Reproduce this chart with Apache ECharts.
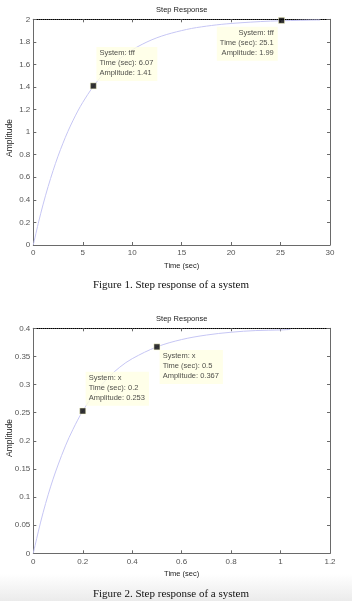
<!DOCTYPE html>
<html>
<head>
<meta charset="utf-8">
<script src="https://cdn.jsdelivr.net/npm/echarts@6/dist/echarts.min.js"></script>
<style>
html,body{margin:0;padding:0;}
body{width:352px;height:601px;background:linear-gradient(to bottom,#ffffff 0px,#ffffff 574px,#ebebeb 601px);}
#c{width:352px;height:601px;}
</style>
</head>
<body>
<div id="c"></div>
<script>
// Figure 1 step response (time, amplitude)
const time1 = [0,0.5,1,1.5,2,2.5,3,3.5,4,4.5,5,6,7,8,9,10,11,12,13,14,15,16,17,18,19,20,22,24,26,28,29];
const amp1  = [0,0.190,0.363,0.518,0.659,0.787,0.902,1.007,1.101,1.187,1.264,1.398,1.507,1.596,1.669,1.729,1.778,1.819,1.852,1.878,1.900,1.919,1.933,1.945,1.955,1.963,1.975,1.984,1.989,1.993,1.994];
// Figure 2 step response
const time2 = [0,0.02,0.04,0.06,0.08,0.1,0.13,0.16,0.2,0.25,0.3,0.35,0.4,0.5,0.6,0.7,0.8,0.9,1.0,1.04];
const amp2  = [0,0.038,0.073,0.104,0.132,0.157,0.191,0.220,0.253,0.285,0.311,0.331,0.346,0.367,0.380,0.388,0.393,0.396,0.397,0.398];
// data tips
const tipSys1 = ['tff','tff'];
const tipTime1 = [6.07,25.1];
const tipAmp1 = [1.41,1.99];
const tipSys2 = ['x','x'];
const tipTime2 = [0.2,0.5];
const tipAmp2 = [0.253,0.367];
// axis ranges / ticks
const xTicks1 = {min:0,max:30,interval:5};
const yTicks1 = {min:0,max:2,interval:0.2};
const xTicks2 = {min:0,max:1.2,interval:0.2};
const yTicks2 = {min:0,max:0.4,interval:0.05};
const titleText = 'Step Response';
const xName = 'Time (sec)';
const yName = 'Amplitude';
const captions = ['Figure 1. Step response of a system','Figure 2. Step response of a system'];

const SANS = 'Liberation Sans, Arial, Helvetica, sans-serif';
const axisGray = '#6a6a6a';

function bottomX(g, t){
  return {gridIndex:g,type:'value',min:t.min,max:t.max,interval:t.interval,position:'bottom',
    axisLine:{show:true,onZero:false,lineStyle:{color:axisGray,width:1}},
    axisTick:{show:true,inside:true,length:3,lineStyle:{color:axisGray}},
    axisLabel:{show:true,margin:4,fontSize:8,color:'#555',fontFamily:SANS},
    splitLine:{show:false},
    name:xName,nameLocation:'middle',nameGap:17,
    nameTextStyle:{fontSize:7.5,color:'#222',fontFamily:SANS}};
}
function topX(g, t){
  return {gridIndex:g,type:'value',min:t.min,max:t.max,interval:t.interval,position:'top',
    axisLine:{show:true,onZero:false,lineStyle:{color:'#000',width:1,type:[1,1]}},
    axisTick:{show:true,inside:true,length:3,lineStyle:{color:axisGray}},
    axisLabel:{show:false},splitLine:{show:false}};
}
function leftY(g, t){
  return {gridIndex:g,type:'value',min:t.min,max:t.max,interval:t.interval,position:'left',
    axisLine:{show:true,onZero:false,lineStyle:{color:axisGray,width:1}},
    axisTick:{show:true,inside:true,length:3,lineStyle:{color:axisGray}},
    axisLabel:{show:true,margin:3,fontSize:8,color:'#555',fontFamily:SANS},
    splitLine:{show:false}};
}
function rightY(g, t){
  return {gridIndex:g,type:'value',min:t.min,max:t.max,interval:t.interval,position:'right',
    axisLine:{show:true,onZero:false,lineStyle:{color:axisGray,width:1}},
    axisTick:{show:true,inside:true,length:3,lineStyle:{color:axisGray}},
    axisLabel:{show:false},splitLine:{show:false}};
}
function zip(a,b){return a.map((v,i)=>[v,b[i]]);}
function tipItems(sys,tm,amp,positions,aligns){
  return tm.map((t,i)=>({
    value:[t,amp[i]],
    label:{show:true,position:positions[i],align:aligns[i],verticalAlign:'top',
      formatter:'System: '+sys[i]+'\nTime (sec): '+t+'\nAmplitude: '+amp[i],
      backgroundColor:'#ffffe3',padding:[1,4,3,3],lineHeight:10,
      fontSize:7.5,color:'#222',fontFamily:SANS}
  }));
}
const lineColor = '#c6c6f4';

const chart = echarts.init(document.getElementById('c'),null,{renderer:'canvas'});
chart.setOption({
  animation:false,
  backgroundColor:'transparent',
  grid:[
    {left:33.3,top:19.3,width:296.7,height:225.7,containLabel:false,outerBoundsMode:'none'},
    {left:33.3,top:328.3,width:296.7,height:225,containLabel:false,outerBoundsMode:'none'}
  ],
  xAxis:[bottomX(0,xTicks1),topX(0,xTicks1),bottomX(1,xTicks2),topX(1,xTicks2)],
  yAxis:[leftY(0,yTicks1),rightY(0,yTicks1),leftY(1,yTicks2),rightY(1,yTicks2)],
  series:[
    {type:'line',xAxisIndex:0,yAxisIndex:0,data:zip(time1,amp1),showSymbol:false,smooth:0.35,
      lineStyle:{color:lineColor,width:1},z:2},
    {type:'line',xAxisIndex:2,yAxisIndex:2,data:zip(time2,amp2),showSymbol:false,smooth:0.35,
      lineStyle:{color:lineColor,width:1},z:2},
    {type:'scatter',xAxisIndex:0,yAxisIndex:0,symbol:'rect',symbolSize:6,
      itemStyle:{color:'#000',borderColor:'#ffffc8',borderWidth:0.6},z:5,
      data:tipItems(tipSys1,tipTime1,tipAmp1,[[6.4,-35.5],[-0.5,9.6]],['left','right'])},
    {type:'scatter',xAxisIndex:2,yAxisIndex:2,symbol:'rect',symbolSize:6,
      itemStyle:{color:'#000',borderColor:'#ffffc8',borderWidth:0.6},z:5,
      data:tipItems(tipSys2,tipTime2,tipAmp2,[[6.2,-36],[6,6.5]],['left','left'])}
  ],
  graphic:[
    {type:'text',x:181.7,y:10,style:{text:titleText,align:'center',verticalAlign:'middle',font:'7.5px '+SANS,fill:'#222'}},
    {type:'text',x:181.7,y:319,style:{text:titleText,align:'center',verticalAlign:'middle',font:'7.5px '+SANS,fill:'#222'}},
    {type:'text',x:9.5,y:138,rotation:Math.PI/2,style:{text:yName,align:'center',verticalAlign:'middle',font:'8.5px '+SANS,fill:'#222'}},
    {type:'text',x:9.5,y:438,rotation:Math.PI/2,style:{text:yName,align:'center',verticalAlign:'middle',font:'8.5px '+SANS,fill:'#222'}},
    {type:'text',x:171,y:285,style:{text:captions[0],align:'center',verticalAlign:'middle',font:'11px "Liberation Serif", "Times New Roman", serif',fill:'#111'}},
    {type:'text',x:171,y:594,style:{text:captions[1],align:'center',verticalAlign:'middle',font:'11px "Liberation Serif", "Times New Roman", serif',fill:'#111'}}
  ]
});
</script>
</body>
</html>
